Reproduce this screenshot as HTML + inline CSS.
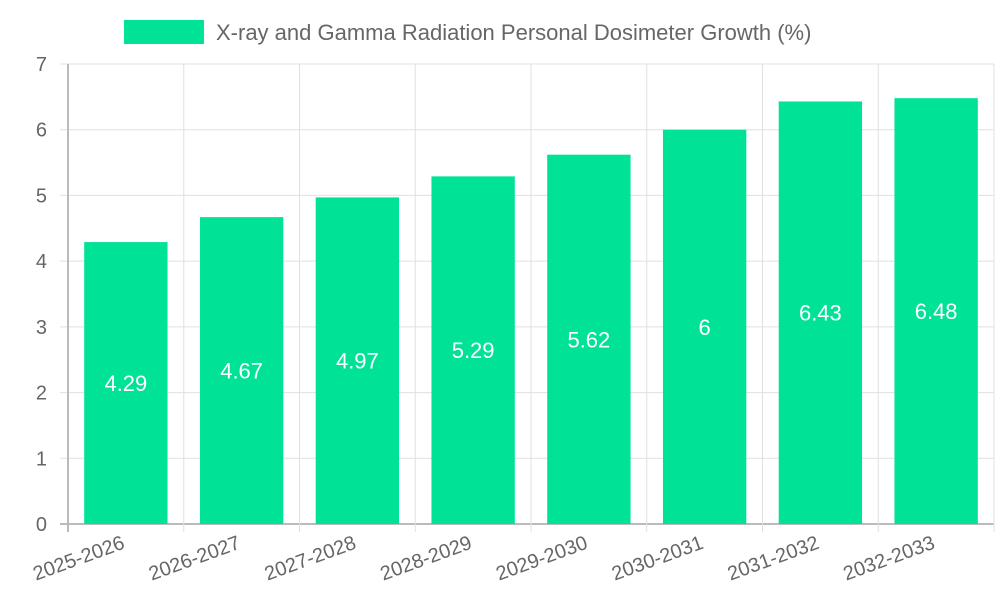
<!DOCTYPE html>
<html><head><meta charset="utf-8"><style>
body{margin:0;background:#fff}
svg text{font-family:"Liberation Sans",sans-serif}
</style></head><body>
<svg id="c" width="1000" height="600">
<g>
<rect x="124" y="20" width="80" height="24" fill="#00e396"/>
<text x="216" y="40" font-size="22" fill="#666">X-ray and Gamma Radiation Personal Dosimeter Growth (%)</text>
</g>
<g id="grid"></g>
<g id="bars"></g>
<g id="axes"></g>
</svg>
<script>
const categories=["2025-2026","2026-2027","2027-2028","2028-2029","2029-2030","2030-2031","2031-2032","2032-2033"];
const values=[4.29,4.67,4.97,5.29,5.62,6,6.43,6.48];
const valueLabels=["4.29","4.67","4.97","5.29","5.62","6","6.43","6.48"];
const yTicks=[0,1,2,3,4,5,6,7];
const NS="http://www.w3.org/2000/svg";
const L=68,R=994,T=64,B=524,yMax=7;
const y=v=>B-(v/yMax)*(B-T);
const bw=(R-L)/categories.length;
const x=i=>L+i*bw;
function mk(tag,a,p){const e=document.createElementNS(NS,tag);for(const k in a)e.setAttribute(k,a[k]);p.appendChild(e);return e;}
const grid=document.getElementById('grid'),bars=document.getElementById('bars'),axes=document.getElementById('axes');
yTicks.forEach(t=>{
 const l=mk('line',{x1:60,x2:R,y1:y(t),y2:y(t),stroke:t===0?'#bbb':'#e0e0e0','stroke-width':t===0?2:1},grid);
 
 
 const tx=mk('text',{x:47,y:y(t)+7,'font-size':20,fill:'#666','text-anchor':'end'},axes);
 tx.textContent=t;
 
 
});
for(let i=0;i<=categories.length;i++){
 const l=mk('line',{x1:x(i),x2:x(i),y1:T,y2:532,stroke:i===0?'#bbb':'#e0e0e0','stroke-width':i===0?2:1},grid);
 
 
}
categories.forEach((c,i)=>{
 const cx=x(i)+bw/2,w=bw*0.72;
 const r=mk('rect',{x:cx-w/2,y:y(values[i]),width:w,height:B-y(values[i]),fill:'#00e396'},bars);
 
 
 const vt=mk('text',{x:cx,y:(y(values[i])+B)/2+8,'font-size':22,fill:'#fff','text-anchor':'middle'},bars);
 vt.textContent=valueLabels[i];
 
 
 const xt=mk('text',{x:cx,y:548,'font-size':20,fill:'#666','text-anchor':'end',transform:`rotate(-20 ${cx} 548)`},axes);
 xt.textContent=c;
 
 
});
</script>
</body></html>
